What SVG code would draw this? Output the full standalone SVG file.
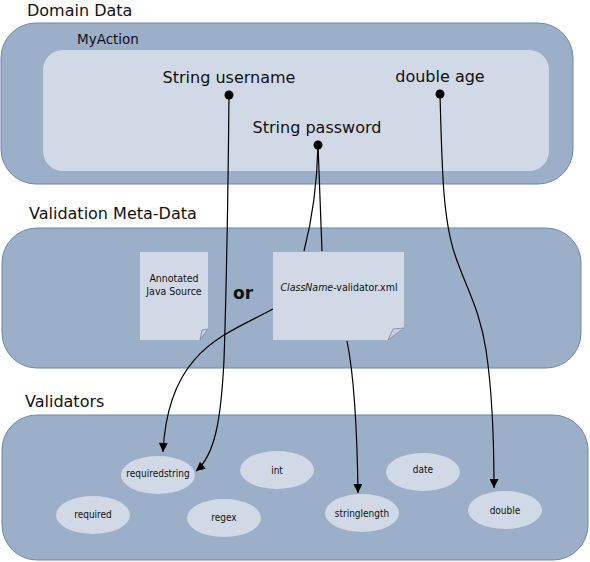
<svg xmlns="http://www.w3.org/2000/svg" width="590" height="562" viewBox="0 0 590 562">
<style>
.box{fill:#9cafc8;stroke:#6f87a6;stroke-width:1}
.light{fill:#d0d9e5}
.title{font-family:"DejaVu Sans",sans-serif;font-size:16px;fill:#111}
.lbl{font-family:"DejaVu Sans",sans-serif;font-size:16px;fill:#111;text-anchor:middle}
.small{font-family:"DejaVu Sans Condensed","DejaVu Sans",sans-serif;font-stretch:condensed;font-size:10px;fill:#111;text-anchor:middle}
.doc{font-size:10.5px}
.fold{fill:#c4cedc;stroke:#7d8796;stroke-width:0.8}
.conn{fill:none;stroke:#000;stroke-width:1.2}
</style>
<defs>
<marker id="arr" viewBox="0 0 10 10" refX="10" refY="5" markerWidth="10" markerHeight="9" orient="auto" markerUnits="userSpaceOnUse">
<path d="M0,0 L10,5 L0,10 z" fill="#000"/>
</marker>
</defs>
<g id="domain-data">
<text class="title" x="27" y="16">Domain Data</text>
<rect class="box" x="1" y="23" width="572" height="161" rx="35" ry="35"/>
<text class="title" x="77" y="44" style="font-size:13.5px">MyAction</text>
</g>
<g id="myaction">
<rect class="light" x="43" y="50" width="506" height="121" rx="20" ry="20"/>
<text class="lbl" x="229" y="83">String username</text>
<text class="lbl" x="440" y="82">double age</text>
<text class="lbl" x="317" y="133">String password</text>
</g>
<g id="validation-meta-data">
<text class="title" x="29" y="219">Validation Meta-Data</text>
<rect class="box" x="2" y="228" width="579" height="140" rx="35" ry="35"/>
</g>
<g id="annotated-java-source">
<path class="light" d="M140,252 H208 V329 L200,340 H140 Z"/>
<path class="fold" d="M200,340 L202,330 L208,329 Z"/>
<text class="small doc" x="174" y="282">Annotated</text>
<text class="small doc" x="174" y="295">Java Source</text>
</g>
<g id="or">
<text x="243" y="299" style="font-family:'DejaVu Sans',sans-serif;font-size:17px;font-weight:bold;fill:#111;text-anchor:middle">or</text>
</g>
<g id="classname-validator">
<path class="light" d="M273,252 H404 V328 L388,340 H273 Z"/>
<path class="fold" d="M388,340 L393,329 L404,328 Z"/>
<text class="small doc" x="339" y="291"><tspan font-style="italic">ClassName</tspan>-validator.xml</text>
</g>
<g id="validators">
<text class="title" x="25" y="407">Validators</text>
<rect class="box" x="2" y="415" width="586" height="145" rx="35" ry="35"/>
</g>
<g id="v-requiredstring"><ellipse class="light" cx="158" cy="475" rx="37" ry="19"/><text class="small" x="158" y="477">requiredstring</text></g>
<g id="v-int"><ellipse class="light" cx="277" cy="470" rx="37" ry="19"/><text class="small" x="277" y="474">int</text></g>
<g id="v-required"><ellipse class="light" cx="93" cy="515" rx="37" ry="19"/><text class="small" x="93" y="518">required</text></g>
<g id="v-regex"><ellipse class="light" cx="224" cy="518" rx="37" ry="19"/><text class="small" x="224" y="521">regex</text></g>
<g id="v-date"><ellipse class="light" cx="423" cy="472" rx="37" ry="19"/><text class="small" x="423" y="473">date</text></g>
<g id="v-stringlength"><ellipse class="light" cx="362" cy="513" rx="37" ry="19"/><text class="small" x="362" y="517">stringlength</text></g>
<g id="v-double"><ellipse class="light" cx="505" cy="510" rx="37" ry="19"/><text class="small" x="505" y="514">double</text></g>
<g id="connectors">
<path class="conn" d="M229,95 C228,200 226,300 224,360 C221,420 215,455 196,471" marker-end="url(#arr)"/>
<path class="conn" d="M318,145 C317,190 312,220 304,251"/>
<path class="conn" d="M318,145 L322,251"/>
<path class="conn" d="M273,309 C225,335 168,350 163,452" marker-end="url(#arr)"/>
<path class="conn" d="M347,341 C354,375 357,420 358,493" marker-end="url(#arr)"/>
<path class="conn" d="M440,94 C442,170 443,220 455,255 C467,290 480,310 486,350 C492,390 494,440 494,488" marker-end="url(#arr)"/>
<circle cx="229" cy="95" r="4.5" fill="#000"/>
<circle cx="318" cy="145" r="4.5" fill="#000"/>
<circle cx="440" cy="94" r="4.5" fill="#000"/>
</g>
</svg>
